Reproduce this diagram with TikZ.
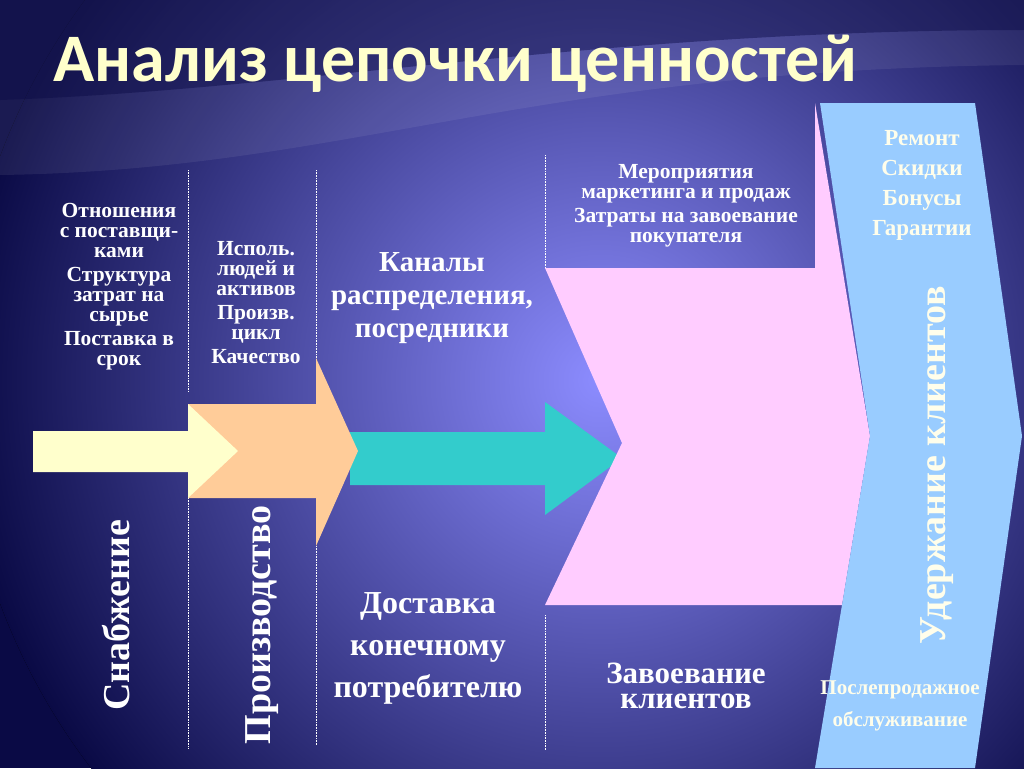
\documentclass[tikz,border=0pt]{standalone}
\usepackage{fontspec}
\setmainfont{Liberation Serif}
\newfontfamily\titlefont{Carlito}
\definecolor{navy}{HTML}{0A0A45}
\definecolor{glow}{HTML}{8C8CFF}
\definecolor{ylw}{HTML}{FFFFCC}
\definecolor{org}{HTML}{FFCC99}
\definecolor{teal2}{HTML}{33CCCC}
\definecolor{pnk}{HTML}{FFCCFF}
\definecolor{lblue}{HTML}{99CCFF}
\tikzset{
  txt/.style={text=white, font=\bfseries\fontsize{21.5}{20}\selectfont, align=center},
  big/.style={text=white, font=\bfseries\fontsize{29}{33}\selectfont, align=center},
  vert/.style={text=white, font=\bfseries\fontsize{38}{38}\selectfont, rotate=90},
  sep/.style={white!70, densely dotted, line width=0.6pt}
}
\begin{document}
\begin{tikzpicture}[x=1pt, y=-1pt]
  \useasboundingbox (0,0) rectangle (1024,768);
  % background
  \fill[navy] (0,0) rectangle (1024,768);
  \begin{scope}
    \clip (0,0) rectangle (1024,768);
    \fill[inner color=glow, outer color=navy] (600,380) circle (640);
    \fill[white, opacity=0.07] (0,175) .. controls (350,170) and (520,70) .. (1024,65) -- (1024,0) -- (0,0) -- cycle;
    \fill[navy, opacity=0.45] (0,0) -- (1024,0) -- (1024,30) .. controls (600,30) and (300,90) .. (0,100) -- cycle;
  \end{scope}
  \node[anchor=west, text=ylw, font=\titlefont\bfseries\fontsize{68}{68}\selectfont] (title) at (50,64) {Анализ цепочки ценностей};

  % separators
  \draw[sep] (188,170) -- (188,392);
  \draw[sep] (188,498) -- (188,748);
  \draw[sep] (316,170) -- (316,404);
  \draw[sep] (316,546) -- (316,745);
  \draw[sep] (545,155) -- (545,268);
  \draw[sep] (545,615) -- (545,750);

  % arrows
  \fill[teal2] (350,432) -- (545,432) -- (545,402) -- (622,458) -- (545,515) -- (545,485) -- (350,485) -- cycle;
  \fill[org] (188,404) -- (316,404) -- (316,358) -- (358,451) -- (316,546) -- (316,498) -- (188,498) -- cycle;
  \fill[ylw] (33,431) -- (188,431) -- (188,404) -- (238,451) -- (188,498) -- (188,472) -- (33,472) -- cycle;
  \fill[pnk] (545,268) -- (815,268) -- (815,103) -- (870,436) -- (842,605) -- (545,605) -- (622,443) -- cycle;
  \fill[lblue] (820,103) -- (975,103) -- (1022,436) -- (975,768) -- (815,768) -- (870,436) -- cycle;

  % texts
  \node[txt] (supplytop) at (119,287) {Отношения\\с поставщи-\\ками\\[4pt]Структура\\затрат на\\сырье\\[4pt]Поставка в\\срок};
  \node[txt] (prodtop) at (256,303) {Исполь.\\людей и\\активов\\[4pt]Произв.\\цикл\\[4pt]Качество};
  \node[big] (distrtop) at (432,298) {Каналы\\распределения,\\посредники};
  \node[txt] (markettop) at (686,206) {Мероприятия\\маркетинга и продаж\\[4pt]Затраты на завоевание\\покупателя};
  \node[txt, text=white!92!yellow, font=\bfseries\fontsize{23}{30}\selectfont] (servtop) at (922,185) {Ремонт\\Скидки\\Бонусы\\Гарантии};
  \node[vert] (supply) at (116,615) {Снабжение};
  \node[vert] (prod) at (262,625) {Производство};
  \node[big, font=\bfseries\fontsize{32}{42}\selectfont] (deliv) at (428,648) {Доставка\\конечному\\потребителю};
  \node[big, font=\bfseries\fontsize{31}{25}\selectfont] (win) at (686,686) {Завоевание\\клиентов};
  \node[vert, text=white!92!yellow] (keep) at (937,465) {Удержание клиентов};
  \node[txt, text=white!92!yellow, font=\bfseries\fontsize{21}{32}\selectfont] (after) at (900,706) {Послепродажное\\обслуживание};
\end{tikzpicture}
\end{document}
